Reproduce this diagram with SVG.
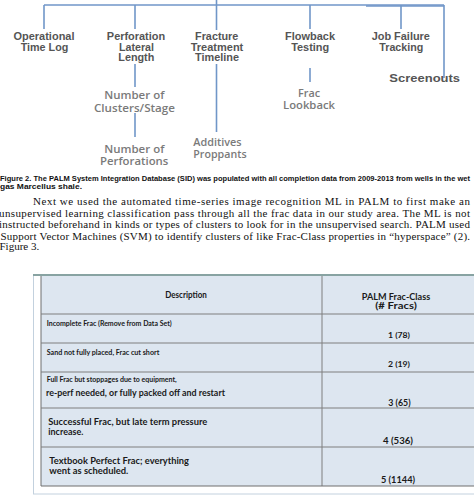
<svg xmlns="http://www.w3.org/2000/svg" width="474" height="499" viewBox="0 0 474 499">
<style>
.ln{stroke:#7096c8;stroke-width:1.6;fill:none}
.top{font-family:"Liberation Sans",Arial,sans-serif;font-weight:bold;font-size:10.5px;fill:#555;text-anchor:middle}
.big{font-size:11.5px}
.sub{font-family:"Open Sans","Lato",sans-serif;font-weight:600;font-size:10.5px;fill:#7a7a7a;text-anchor:middle}
.lft{text-anchor:start;font-size:11.5px}
.cap{font-family:"Liberation Sans",Arial,sans-serif;font-weight:bold;font-size:7.8px;fill:#111}
.para{font-family:"Liberation Serif","Times New Roman",serif;font-size:11px;fill:#111}
.cell{font-family:"Lato","Open Sans",sans-serif;font-weight:bold;font-size:8.6px;fill:#1a1a1a}
.sm{font-size:7.3px}
.mid{text-anchor:middle}
.grid{stroke:#7f7f7f;stroke-width:1;fill:none}
</style>
<rect width="474" height="499" fill="#fff"/>
<g id="connectors">
<line class="ln" x1="44" y1="5" x2="444" y2="5"/>
<line class="ln" x1="366" y1="6" x2="444" y2="6"/>
<line class="ln" x1="216.5" y1="0" x2="216.5" y2="30"/>
<line class="ln" x1="44" y1="5" x2="44" y2="29"/>
<line class="ln" x1="135" y1="5" x2="135" y2="29"/>
<line class="ln" x1="310" y1="5" x2="310" y2="29"/>
<line class="ln" x1="401" y1="5" x2="401" y2="29"/>
<line class="ln" x1="444" y1="5" x2="444" y2="78"/>
<line class="ln" x1="135" y1="64" x2="135" y2="87"/>
<line class="ln" x1="135" y1="113" x2="135" y2="137"/>
<line class="ln" x1="216.5" y1="64" x2="216.5" y2="132"/>
<line class="ln" x1="310" y1="68" x2="310" y2="82"/>
</g>
<g id="node-operational">
<text class="top" x="44" y="40" textLength="61" lengthAdjust="spacingAndGlyphs">Operational</text>
<text class="top" x="44.5" y="50.5" textLength="47.6" lengthAdjust="spacingAndGlyphs">Time Log</text>
</g>
<g id="node-perforation">
<text class="top" x="136" y="40" textLength="58.3" lengthAdjust="spacingAndGlyphs">Perforation</text>
<text class="top" x="136.5" y="50.5" textLength="35" lengthAdjust="spacingAndGlyphs">Lateral</text>
<text class="top" x="136.3" y="61" textLength="36" lengthAdjust="spacingAndGlyphs">Length</text>
</g>
<g id="node-fracture">
<text class="top" x="216.7" y="40" textLength="43.3" lengthAdjust="spacingAndGlyphs">Fracture</text>
<text class="top" x="217" y="50.5" textLength="52.6" lengthAdjust="spacingAndGlyphs">Treatment</text>
<text class="top" x="217" y="61" textLength="44" lengthAdjust="spacingAndGlyphs">Timeline</text>
</g>
<g id="node-flowback">
<text class="top" x="310" y="40" textLength="50" lengthAdjust="spacingAndGlyphs">Flowback</text>
<text class="top" x="310.2" y="50.5" textLength="38" lengthAdjust="spacingAndGlyphs">Testing</text>
</g>
<g id="node-jobfailure">
<text class="top" x="400.8" y="40" textLength="58.3" lengthAdjust="spacingAndGlyphs">Job Failure</text>
<text class="top" x="401.3" y="50.5" textLength="44" lengthAdjust="spacingAndGlyphs">Tracking</text>
</g>
<g id="node-screenouts">
<text class="top big" x="424.7" y="81.7" textLength="70.7" lengthAdjust="spacingAndGlyphs">Screenouts</text>
</g>
<g id="node-clusters">
<text class="sub" x="134.3" y="99.3" textLength="60" lengthAdjust="spacingAndGlyphs">Number of</text>
<text class="sub" x="134.5" y="111.7" textLength="81" lengthAdjust="spacingAndGlyphs">Clusters/Stage</text>
</g>
<g id="node-perforations">
<text class="sub" x="134.3" y="152.7" textLength="60" lengthAdjust="spacingAndGlyphs">Number of</text>
<text class="sub" x="134.2" y="164.5" textLength="68.3" lengthAdjust="spacingAndGlyphs">Perforations</text>
</g>
<g id="node-additives">
<text class="sub lft" x="193.3" y="146" textLength="48.3" lengthAdjust="spacingAndGlyphs">Additives</text>
<text class="sub lft" x="193.3" y="157.5" textLength="53.3" lengthAdjust="spacingAndGlyphs">Proppants</text>
</g>
<g id="node-lookback">
<text class="sub" x="309" y="96.5" textLength="22" lengthAdjust="spacingAndGlyphs">Frac</text>
<text class="sub" x="309" y="108.5" textLength="52" lengthAdjust="spacingAndGlyphs">Lookback</text>
</g>
<g id="caption">
<text class="cap" x="0" y="180.5" textLength="470" lengthAdjust="spacingAndGlyphs">Figure 2. The PALM System Integration Database (SID) was populated with all completion data from 2009-2013 from wells in the wet</text>
<text class="cap" x="0" y="188.5" textLength="82" lengthAdjust="spacingAndGlyphs">gas Marcellus shale.</text>
</g>
<g id="paragraph">
<text class="para" x="33" y="205" textLength="437" lengthAdjust="spacing">Next we used the automated time-series image recognition ML in PALM to first make an</text>
<text class="para" x="-1" y="217" textLength="471" lengthAdjust="spacing">unsupervised learning classification pass through all the frac data in our study area. The ML is not</text>
<text class="para" x="-1" y="228.3" textLength="471" lengthAdjust="spacing">instructed beforehand in kinds or types of clusters to look for in the unsupervised search. PALM used</text>
<text class="para" x="0.5" y="239.5" textLength="469.5" lengthAdjust="spacing">Support Vector Machines (SVM) to identify clusters of like Frac-Class properties in “hyperspace” (2).</text>
<text class="para" x="-0.5" y="250.3">Figure 3.</text>
</g>
<g id="table">
<rect x="33.5" y="274.5" width="460" height="219.5" fill="#fff" stroke="#c3d1de" stroke-width="1"/>
<rect x="41" y="275" width="450" height="211" fill="#dde6f0"/>
<g class="grid">
<line x1="41" y1="275" x2="41" y2="486" stroke="#6f6f6f"/>
<line x1="322" y1="275" x2="322" y2="486"/>
<line x1="41" y1="314" x2="474" y2="314"/>
<line x1="41" y1="343" x2="474" y2="343"/>
<line x1="41" y1="372" x2="474" y2="372"/>
<line x1="41" y1="408" x2="474" y2="408"/>
<line x1="41" y1="447" x2="474" y2="447"/>
<line x1="41" y1="486" x2="474" y2="486" stroke="#6f6f6f"/>
</g>
<line x1="33" y1="275" x2="474" y2="275" stroke="#88a3a2" stroke-width="2"/>
<text class="cell mid" x="186" y="298" textLength="41.7" lengthAdjust="spacingAndGlyphs">Description</text>
<text class="cell mid" x="396" y="300" textLength="68.3" lengthAdjust="spacingAndGlyphs">PALM Frac-Class</text>
<text class="cell mid" x="396" y="309" textLength="41.7" lengthAdjust="spacingAndGlyphs">(# Fracs)</text>
<text class="cell sm" x="46.7" y="325.5" textLength="125" lengthAdjust="spacingAndGlyphs">Incomplete Frac (Remove from Data Set)</text>
<text class="cell sm mid" x="399" y="338" textLength="22" lengthAdjust="spacingAndGlyphs">1 (78)</text>
<text class="cell sm" x="46.7" y="354.5" textLength="112.6" lengthAdjust="spacingAndGlyphs">Sand not fully placed, Frac cut short</text>
<text class="cell sm mid" x="399" y="367" textLength="22" lengthAdjust="spacingAndGlyphs">2 (19)</text>
<text class="cell sm" x="46.7" y="382" textLength="130" lengthAdjust="spacingAndGlyphs">Full Frac but stoppages due to equipment,</text>
<text class="cell" x="46" y="396" textLength="179" lengthAdjust="spacingAndGlyphs">re-perf needed, or fully packed off and restart</text>
<text class="cell mid" x="399.5" y="405.5" textLength="22.3" lengthAdjust="spacingAndGlyphs">3 (65)</text>
<text class="cell" x="48.3" y="424.5" textLength="159" lengthAdjust="spacingAndGlyphs">Successful Frac, but late term pressure</text>
<text class="cell" x="48.3" y="434.5" textLength="35" lengthAdjust="spacingAndGlyphs">increase.</text>
<text class="cell mid" x="398" y="444" textLength="30" lengthAdjust="spacingAndGlyphs">4 (536)</text>
<text class="cell" x="49.3" y="463.5" textLength="139.7" lengthAdjust="spacingAndGlyphs">Textbook Perfect Frac; everything</text>
<text class="cell" x="49.3" y="473.5" textLength="79" lengthAdjust="spacingAndGlyphs">went as scheduled.</text>
<text class="cell mid" x="398" y="483" textLength="34" lengthAdjust="spacingAndGlyphs">5 (1144)</text>
</g>
</svg>
